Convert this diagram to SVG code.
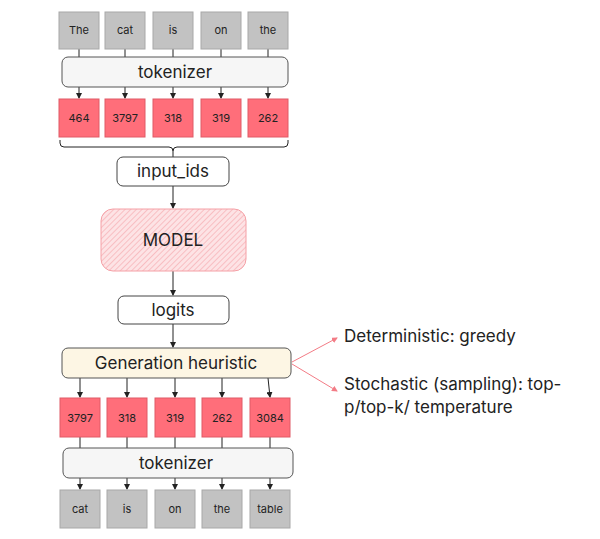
<svg xmlns="http://www.w3.org/2000/svg" width="600" height="539" viewBox="0 0 600 539">
<defs>
<style>
.g{fill:#c2c2c2;stroke:#a8a8a8;stroke-width:1}
.r{fill:#ff6e7a;stroke:#e05a66;stroke-width:1}
.w{fill:#fff;stroke:#444;stroke-width:1}
.tk{fill:#f6f6f6;stroke:#555;stroke-width:1}
.t{font-family:Inter,"Liberation Sans",sans-serif;fill:#222;text-anchor:middle}
.s{font-size:11px}
.m{font-size:17px}
.c{stroke:#222;stroke-width:1;fill:none}
.ca{stroke:#222;stroke-width:1;fill:none;marker-end:url(#a)}
.p{stroke:#f37c86;stroke-width:1;fill:none;marker-end:url(#ap)}
</style>
<marker id="a" markerWidth="6" markerHeight="6" refX="5" refY="3" orient="auto"><path d="M0,0L6,3L0,6z" fill="#222"/></marker>
<marker id="ap" markerWidth="6" markerHeight="6" refX="5" refY="3" orient="auto"><path d="M0,0L6,3L0,6z" fill="#f37c86"/></marker>
<pattern id="h" width="4" height="4" patternUnits="userSpaceOnUse" patternTransform="rotate(45)"><rect width="4" height="4" fill="#fde3e5"/><line x1="0" y1="0" x2="0" y2="4" stroke="#f5a5ab" stroke-width="1.2"/></pattern>
</defs>
<rect width="600" height="539" fill="#fff"/>
<g id="connectors">
<path class="c" d="M79,49V57M125,49V57M173,49V57M221,49V57M268,49V57"/>
<path class="ca" d="M79,87V98"/><path class="ca" d="M125,87V98"/><path class="ca" d="M173,87V98"/><path class="ca" d="M221,87V98"/><path class="ca" d="M268,87V98"/>
<path class="c" d="M60,140V143Q60,147 64,147H169Q173,147 173,151Q173,147 177,147H284Q288,147 288,143V140"/>
<path class="c" d="M173,151V157"/>
<path class="ca" d="M173,186V208"/>
<path class="ca" d="M173,271V295"/>
<path class="ca" d="M173,324V347"/>
<path class="ca" d="M80,378V397"/><path class="ca" d="M127,378V397"/><path class="ca" d="M175,378V397"/><path class="ca" d="M222,378V397"/><path class="ca" d="M268,378L270,397"/>
<path class="c" d="M80,437V448M127,437V448M175,437V448M222,437V448M270,437V448"/>
<path class="ca" d="M80,478V489"/><path class="ca" d="M127,478V489"/><path class="ca" d="M175,478V489"/><path class="ca" d="M222,478V489"/><path class="ca" d="M270,478V489"/>
<path class="p" d="M292,362L337,338"/><path class="p" d="M292,364L337,391"/>
</g>
<g id="in-tokens">
<rect class="g" x="59" y="12" width="40" height="37"/><text class="t s" x="79" y="34">The</text>
<rect class="g" x="105" y="12" width="40" height="37"/><text class="t s" x="125" y="34">cat</text>
<rect class="g" x="153" y="12" width="40" height="37"/><text class="t s" x="173" y="34">is</text>
<rect class="g" x="201" y="12" width="40" height="37"/><text class="t s" x="221" y="34">on</text>
<rect class="g" x="248" y="12" width="40" height="37"/><text class="t s" x="268" y="34">the</text>
</g>
<g id="tokenizer1"><rect class="tk" x="62" y="57" width="226" height="30" rx="6"/><text class="t m" x="175" y="78">tokenizer</text></g>
<g id="in-ids">
<rect class="r" x="59" y="99" width="40" height="38"/><text class="t s" x="79" y="122">464</text>
<rect class="r" x="105" y="99" width="40" height="38"/><text class="t s" x="125" y="122">3797</text>
<rect class="r" x="153" y="99" width="40" height="38"/><text class="t s" x="173" y="122">318</text>
<rect class="r" x="201" y="99" width="40" height="38"/><text class="t s" x="221" y="122">319</text>
<rect class="r" x="248" y="99" width="40" height="38"/><text class="t s" x="268" y="122">262</text>
</g>
<g id="input_ids"><rect class="w" x="117" y="157" width="112" height="29" rx="6"/><text class="t m" x="173" y="177">input_ids</text></g>
<g id="model"><rect x="101" y="209" width="145" height="62" rx="12" fill="url(#h)" stroke="#f5a0a6"/><text class="t m" x="173" y="246">MODEL</text></g>
<g id="logits"><rect class="w" x="118" y="296" width="111" height="28" rx="6"/><text class="t m" x="173" y="316">logits</text></g>
<g id="gen"><rect x="62" y="348" width="229" height="30" rx="6" fill="#fdf6e4" stroke="#555"/><text class="t m" x="176" y="369">Generation heuristic</text></g>
<g id="out-ids">
<rect class="r" x="60" y="398" width="40" height="39"/><text class="t s" x="80" y="422">3797</text>
<rect class="r" x="107" y="398" width="40" height="39"/><text class="t s" x="127" y="422">318</text>
<rect class="r" x="155" y="398" width="40" height="39"/><text class="t s" x="175" y="422">319</text>
<rect class="r" x="202" y="398" width="40" height="39"/><text class="t s" x="222" y="422">262</text>
<rect class="r" x="250" y="398" width="40" height="39"/><text class="t s" x="270" y="422">3084</text>
</g>
<g id="tokenizer2"><rect class="tk" x="63" y="448" width="230" height="30" rx="6"/><text class="t m" x="176" y="469">tokenizer</text></g>
<g id="out-tokens">
<rect class="g" x="60" y="490" width="40" height="38"/><text class="t s" x="80" y="513">cat</text>
<rect class="g" x="107" y="490" width="40" height="38"/><text class="t s" x="127" y="513">is</text>
<rect class="g" x="155" y="490" width="40" height="38"/><text class="t s" x="175" y="513">on</text>
<rect class="g" x="202" y="490" width="40" height="38"/><text class="t s" x="222" y="513">the</text>
<rect class="g" x="250" y="490" width="40" height="38"/><text class="t s" x="270" y="513">table</text>
</g>
<g id="notes" font-family="Inter,'Liberation Sans',sans-serif" font-size="17" fill="#222">
<text x="344" y="342">Deterministic: greedy</text>
<text x="344" y="390">Stochastic (sampling): top-</text>
<text x="344" y="413">p/top-k/ temperature</text>
</g>
</svg>
